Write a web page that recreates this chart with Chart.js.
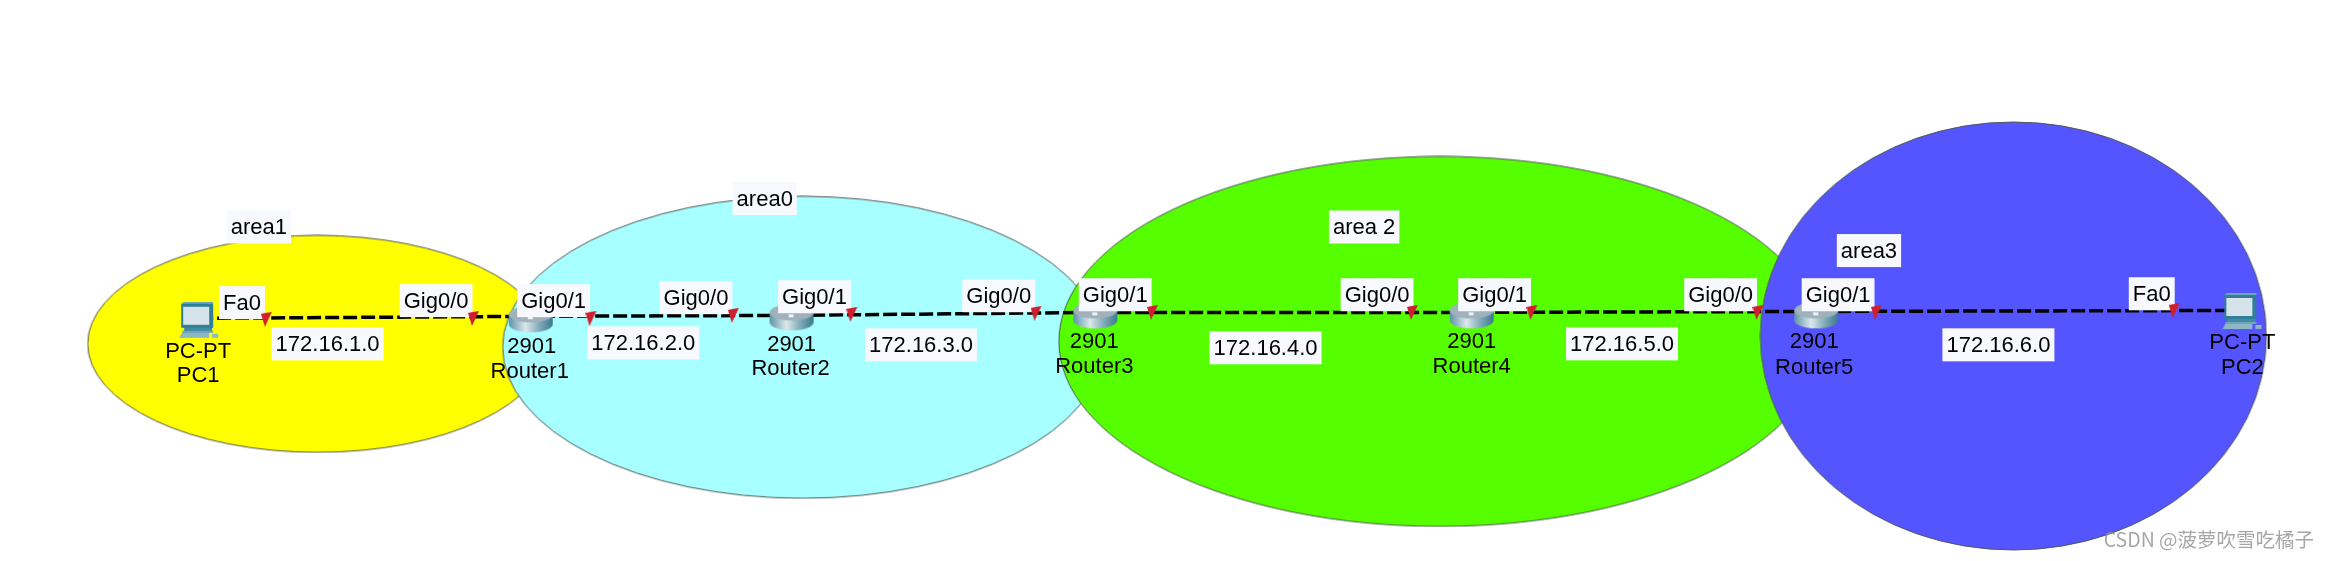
<!DOCTYPE html>
<html>
<head>
<meta charset="utf-8">
<title>OSPF areas</title>
<script src="https://cdn.jsdelivr.net/npm/chart.js@4/dist/chart.umd.min.js"></script>
<style>
  html, body { margin: 0; padding: 0; background: #fff; overflow: hidden; }
  canvas { display: block; }
</style>
</head>
<body>
<canvas id="topology" width="2331" height="561"></canvas>
<script>
// OSPF areas, back to front
const areaX = [314, 801, 1441, 2017];
const areaY = [345, 348.5, 342.5, 337];
const areaRx = [230, 300, 381, 253];
const areaRy = [108.5, 151, 185, 214];
const areaColors = ["#ffff00", "#a8ffff", "#55ff00", "#5555ff"];

// devices along the link
const linkX = [195, 528, 790, 1095, 1473, 1819, 2246];
const linkY = [319, 317, 316, 313, 313, 312, 311];
const routerX = [528, 790, 1095, 1473, 1819];
const routerY = [320, 318, 316, 316, 316];
const pcX = [194, 2246];
const pcY = [321, 312];

// red port markers
const portX = [263, 471, 589, 732, 851, 1036, 1153, 1414, 1534, 1761, 1880, 2179];
const portY = [320, 319, 319, 316, 315, 314, 313, 313, 313, 313, 313, 311];

// labels with a pale box
const boxText = ["area1", "area0", "area 2", "area3",
  "Fa0", "Gig0/0", "Gig0/1", "Gig0/0", "Gig0/1", "Gig0/0", "Gig0/1", "Gig0/0", "Gig0/1", "Gig0/0", "Gig0/1", "Fa0",
  "172.16.1.0", "172.16.2.0", "172.16.3.0", "172.16.4.0", "172.16.5.0", "172.16.6.0"];
const boxX = [255, 763, 1365, 1872,
  238, 433, 551, 694, 813, 998, 1115, 1378, 1496, 1723, 1841, 2156,
  324, 641, 920, 1266, 1624, 2002];
const boxY = [226, 197, 226, 250,
  303, 301, 301, 298, 297, 296, 295, 295, 295, 295, 295, 294,
  345, 344, 346, 349, 345, 346];

// plain device captions
const captionText = ["PC-PT", "PC1", "2901", "Router1", "2901", "Router2", "2901", "Router3", "2901", "Router4", "2901", "Router5", "PC-PT", "PC2"];
const captionX = [194, 194, 529, 527, 790, 789, 1094, 1094, 1473, 1473, 1817, 1817, 2247, 2247];
const captionY = [352, 377, 347, 373, 345, 370, 342, 367, 342, 367, 342, 368, 343, 368];

const watermark = "CSDN @菠萝吹雪吃橘子";

function sprite(w, h, paint){
  const c = document.createElement("canvas");
  c.width = w; c.height = h;
  paint(c.getContext("2d"), w, h);
  return c;
}

function ellipseSprite(rx, ry, color){
  return sprite(Math.ceil(rx * 2) + 2, Math.ceil(ry * 2) + 2, (ctx, w, h)=>{
    ctx.beginPath();
    ctx.ellipse(w / 2, h / 2, rx, ry, 0, 0, Math.PI * 2);
    ctx.fillStyle = color;
    ctx.fill();
    ctx.strokeStyle = "#4f5856";
    ctx.lineWidth = 1;
    ctx.stroke();
  });
}

const routerIcon = sprite(46, 28, (ctx)=>{
  const g = ctx.createLinearGradient(1, 0, 45, 0);
  g.addColorStop(0, "#5f93a6");
  g.addColorStop(0.38, "#dce8ec");
  g.addColorStop(0.7, "#7fa9b8");
  g.addColorStop(1, "#3c7a90");
  ctx.fillStyle = g;
  ctx.beginPath();
  ctx.moveTo(1, 9);
  ctx.lineTo(1, 19);
  ctx.ellipse(23, 19, 22, 8, 0, Math.PI, 0, true);
  ctx.lineTo(45, 9);
  ctx.closePath();
  ctx.fill();
  ctx.fillStyle = "#9fb2bb";
  ctx.beginPath();
  ctx.ellipse(23, 9, 22, 8, 0, 0, Math.PI * 2);
  ctx.fill();
  ctx.fillStyle = "#eef3f5";
  ctx.fillRect(20, 11, 5, 3);
});

const pcIcon = sprite(44, 37, (ctx)=>{
  ctx.fillStyle = "#2f7f99";
  ctx.fillRect(5, 2, 32, 24);
  ctx.fillStyle = "#6aa6b8";
  ctx.beginPath();
  ctx.moveTo(5, 2); ctx.lineTo(8, 0); ctx.lineTo(37, 0); ctx.lineTo(37, 2);
  ctx.closePath();
  ctx.fill();
  ctx.fillStyle = "#d6e3ea";
  ctx.fillRect(7, 5, 26, 18);
  ctx.fillStyle = "#3f8ba3";
  ctx.fillRect(8, 26, 28, 3);
  ctx.fillStyle = "#6fa3b5";
  ctx.fillRect(6, 29, 31, 2);
  ctx.fillStyle = "#8db6c6";
  ctx.beginPath();
  ctx.moveTo(3, 36); ctx.lineTo(6, 31); ctx.lineTo(33, 31); ctx.lineTo(33, 36);
  ctx.closePath();
  ctx.fill();
  ctx.fillRect(36, 32, 6, 4);
});

const portIcon = sprite(12, 15, (ctx)=>{
  ctx.fillStyle = "#cf1f2e";
  ctx.beginPath();
  ctx.moveTo(0, 2); ctx.lineTo(11, 0); ctx.lineTo(4, 15);
  ctx.closePath();
  ctx.fill();
});

function xy(xs, ys){
  return xs.map((x, i)=>({ x, y: ys[i] }));
}

// pale boxes go in just under the port markers, captions on top of everything
const labelPlugin = {
  id: "labels",
  beforeDatasetDraw(chart, args){
    if (chart.data.datasets[args.index].label !== "ports") return;
    const { ctx, scales: { x, y } } = chart;
    ctx.save();
    ctx.font = '22px "Liberation Sans"';
    ctx.textAlign = "center";
    ctx.textBaseline = "middle";
    boxText.forEach((t, i)=>{
      const px = x.getPixelForValue(boxX[i]);
      const py = y.getPixelForValue(boxY[i]);
      const w = ctx.measureText(t).width + 8;
      ctx.fillStyle = "#f8f9ff";
      ctx.fillRect(px - w / 2, py - 16.5, w, 33);
      ctx.fillStyle = "#000";
      ctx.fillText(t, px, py + 1);
    });
    ctx.restore();
  },
  afterDatasetsDraw(chart){
    const { ctx, scales: { x, y } } = chart;
    ctx.save();
    ctx.font = '22px "Liberation Sans"';
    ctx.textAlign = "center";
    ctx.textBaseline = "middle";
    ctx.fillStyle = "#000";
    captionText.forEach((t, i)=>{
      ctx.fillText(t, x.getPixelForValue(captionX[i]), y.getPixelForValue(captionY[i]) + 1);
    });
    ctx.font = '19.5px "Noto Sans CJK SC"';
    ctx.textAlign = "right";
    ctx.fillStyle = "rgba(150,150,150,0.85)";
    ctx.fillText(watermark, x.getPixelForValue(2319), y.getPixelForValue(544));
    ctx.restore();
  }
};

const areaSets = areaX.map((ax, i)=>({
  label: "area" + i,
  data: [{ x: ax, y: areaY[i] }],
  pointStyle: ellipseSprite(areaRx[i], areaRy[i], areaColors[i]),
  order: 10 - i
}));

new Chart(document.getElementById("topology"), {
  type: "scatter",
  data: {
    datasets: [
      ...areaSets,
      {
        label: "link",
        data: xy(linkX, linkY),
        showLine: true,
        borderColor: "#000",
        borderWidth: 3.5,
        borderDash: [14, 4],
        pointRadius: 0,
        order: 4
      },
      { label: "routers", data: xy(routerX, routerY), pointStyle: routerIcon, order: 3 },
      { label: "pcs", data: xy(pcX, pcY), pointStyle: pcIcon, order: 2 },
      { label: "ports", data: xy(portX, portY), pointStyle: portIcon, order: 1 }
    ]
  },
  options: {
    responsive: false,
    animation: false,
    devicePixelRatio: 1,
    layout: { padding: 0 },
    plugins: { legend: { display: false }, tooltip: { enabled: false } },
    scales: {
      x: { type: "linear", display: false, min: 0, max: 2331 },
      y: { type: "linear", display: false, min: 0, max: 561, reverse: true }
    }
  },
  plugins: [labelPlugin]
});
</script>
</body>
</html>
